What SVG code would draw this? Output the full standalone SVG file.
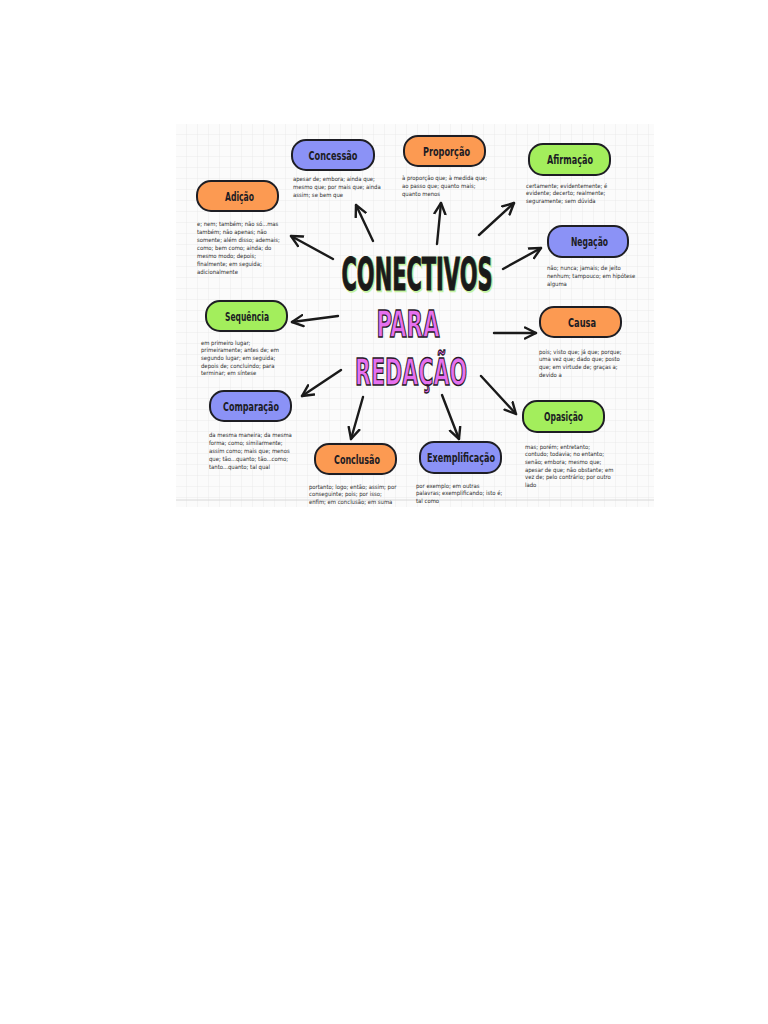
<svg xmlns="http://www.w3.org/2000/svg" width="768" height="1024" viewBox="0 0 768 1024">
<defs>
<pattern id="grid" x="176" y="124" width="11" height="11" patternUnits="userSpaceOnUse">
<path d="M11 0V11M0 11H11" fill="none" stroke="#e4e4e6" stroke-width="0.8"/>
</pattern>
<marker id="ah" viewBox="0 0 14 14" refX="12" refY="7" markerWidth="14" markerHeight="14" markerUnits="userSpaceOnUse" orient="auto">
<path d="M1 1.5L12 7L1 12.5" fill="none" stroke="#1a1a1a" stroke-width="2.4" stroke-linecap="round" stroke-linejoin="round"/>
</marker>
</defs>
<style>
.box{stroke:#1e1e24;stroke-width:2}
.or{fill:#fc9a52}
.bl{fill:#8b92f6}
.gr{fill:#a3ee5c}
.lbl{font-family:"DejaVu Sans Condensed","DejaVu Sans",sans-serif;font-stretch:condensed;font-weight:bold;font-size:12px;fill:#1c1c24;text-anchor:middle}
.d{font-family:"DejaVu Sans Condensed","DejaVu Sans",sans-serif;font-stretch:condensed;font-size:5.9px;fill:#2e2e2e}
.arr{stroke:#1a1a1a;stroke-width:2.4;stroke-linecap:round;fill:none;marker-end:url(#ah)}
.ttl{font-family:"DejaVu Sans Condensed","DejaVu Sans",sans-serif;font-stretch:condensed;font-weight:bold;text-anchor:middle}
</style>
<rect width="768" height="1024" fill="#ffffff"/>
<rect x="176" y="124" width="478" height="383" fill="#fbfbfb"/>
<rect x="176" y="124" width="478" height="383" fill="url(#grid)"/>
<line x1="176" y1="500" x2="654" y2="500" stroke="#d8d8d8" stroke-width="1"/>

<g id="connectors">
<line class="arr" x1="333" y1="259" x2="291" y2="236"/>
<line class="arr" x1="373" y1="241" x2="356" y2="205"/>
<line class="arr" x1="437" y1="244" x2="441" y2="203"/>
<line class="arr" x1="479" y1="235" x2="514" y2="203"/>
<line class="arr" x1="503" y1="269" x2="541" y2="248"/>
<line class="arr" x1="338" y1="316" x2="292" y2="322"/>
<line class="arr" x1="494" y1="333" x2="536" y2="333"/>
<line class="arr" x1="341" y1="370" x2="302" y2="396"/>
<line class="arr" x1="363" y1="397" x2="351" y2="439"/>
<line class="arr" x1="442" y1="395" x2="459" y2="439"/>
<line class="arr" x1="481" y1="376" x2="516" y2="414"/>
</g>

<g id="title">
<text class="ttl" x="418" y="291" font-size="44" textLength="151" lengthAdjust="spacingAndGlyphs" fill="#c4f3a0" stroke="#c4f3a0" stroke-width="2.5">CONECTIVOS</text>
<text class="ttl" x="417" y="290" font-size="44" textLength="151" lengthAdjust="spacingAndGlyphs" fill="#1a1a1a" stroke="#1a1a1a" stroke-width="1">CONECTIVOS</text>
<text class="ttl" x="408" y="337" font-size="38" textLength="63" lengthAdjust="spacingAndGlyphs" fill="#e670f0" stroke="#2a1a2a" stroke-width="1.4">PARA</text>
<text class="ttl" x="411" y="385" font-size="38" textLength="112" lengthAdjust="spacingAndGlyphs" fill="#e670f0" stroke="#2a1a2a" stroke-width="1.4">REDAÇÃO</text>
</g>

<g id="concessao">
<rect class="box bl" x="292" y="140" width="82" height="30" rx="14"/>
<text class="lbl" x="333" y="159.5" textLength="49" lengthAdjust="spacingAndGlyphs">Concessão</text>
<text class="d"><tspan x="293" y="181">apesar de; embora; ainda que;</tspan><tspan x="293" y="189">mesmo que; por mais que; ainda</tspan><tspan x="293" y="197">assim; se bem que</tspan></text>
</g>

<g id="proporcao">
<rect class="box or" x="404" y="136" width="81" height="30" rx="14"/>
<text class="lbl" x="446.5" y="155.5" textLength="47" lengthAdjust="spacingAndGlyphs">Proporção</text>
<text class="d"><tspan x="402" y="179.5">à proporção que; à medida que;</tspan><tspan x="402" y="187.5">ao passo que; quanto mais;</tspan><tspan x="402" y="195.5">quanto menos</tspan></text>
</g>

<g id="afirmacao">
<rect class="box gr" x="529" y="144" width="81" height="31" rx="14"/>
<text class="lbl" x="570" y="164" textLength="46" lengthAdjust="spacingAndGlyphs">Afirmação</text>
<text class="d"><tspan x="526" y="187.5">certamente; evidentemente; é</tspan><tspan x="526" y="195.2">evidente; decerto; realmente;</tspan><tspan x="526" y="202.9">seguramente; sem dúvida</tspan></text>
</g>

<g id="adicao">
<rect class="box or" x="197" y="181" width="81" height="30" rx="14"/>
<text class="lbl" x="239.5" y="200.5" textLength="29" lengthAdjust="spacingAndGlyphs">Adição</text>
<text class="d"><tspan x="197" y="225.5">e; nem; também; não só...mas</tspan><tspan x="197" y="233.5">também; não apenas; não</tspan><tspan x="197" y="241.5">somente; além disso; ademais;</tspan><tspan x="197" y="249.5">como; bem como; ainda; do</tspan><tspan x="197" y="257.5">mesmo modo; depois;</tspan><tspan x="197" y="265.5">finalmente; em seguida;</tspan><tspan x="197" y="273.5">adicionalmente</tspan></text>
</g>

<g id="negacao">
<rect class="box bl" x="548" y="226" width="80" height="31" rx="14"/>
<text class="lbl" x="589.5" y="246" textLength="37" lengthAdjust="spacingAndGlyphs">Negação</text>
<text class="d"><tspan x="547" y="270">não; nunca; jamais; de jeito</tspan><tspan x="547" y="277.8">nenhum; tampouco; em hipótese</tspan><tspan x="547" y="285.6">alguma</tspan></text>
</g>

<g id="sequencia">
<rect class="box gr" x="206" y="301" width="81" height="30" rx="14"/>
<text class="lbl" x="247" y="320.5" textLength="44" lengthAdjust="spacingAndGlyphs">Sequência</text>
<text class="d"><tspan x="201" y="344.5">em primeiro lugar;</tspan><tspan x="201" y="352.2">primeiramente; antes de; em</tspan><tspan x="201" y="359.9">segundo lugar; em seguida;</tspan><tspan x="201" y="367.6">depois de; concluindo; para</tspan><tspan x="201" y="375.3">terminar; em síntese</tspan></text>
</g>

<g id="causa">
<rect class="box or" x="540" y="307" width="81" height="30" rx="14"/>
<text class="lbl" x="582" y="326.5" textLength="28" lengthAdjust="spacingAndGlyphs">Causa</text>
<text class="d"><tspan x="539" y="353.5">pois; visto que; já que; porque;</tspan><tspan x="539" y="361.2">uma vez que; dado que; posto</tspan><tspan x="539" y="368.9">que; em virtude de; graças a;</tspan><tspan x="539" y="376.6">devido a</tspan></text>
</g>

<g id="comparacao">
<rect class="box bl" x="210" y="391" width="81" height="30" rx="14"/>
<text class="lbl" x="251" y="410.5" textLength="56" lengthAdjust="spacingAndGlyphs">Comparação</text>
<text class="d"><tspan x="209" y="436.5">da mesma maneira; da mesma</tspan><tspan x="209" y="444.7">forma; como; similarmente;</tspan><tspan x="209" y="452.9">assim como; mais que; menos</tspan><tspan x="209" y="461.1">que; tão...quanto; tão...como;</tspan><tspan x="209" y="469.3">tanto...quanto; tal qual</tspan></text>
</g>

<g id="conclusao">
<rect class="box or" x="315" y="444" width="81" height="30" rx="14"/>
<text class="lbl" x="357" y="463.5" textLength="46" lengthAdjust="spacingAndGlyphs">Conclusão</text>
<text class="d"><tspan x="309" y="488.5">portanto; logo; então; assim; por</tspan><tspan x="309" y="496.1">conseguinte; pois; por isso;</tspan><tspan x="309" y="503.7">enfim; em conclusão; em suma</tspan></text>
</g>

<g id="exemplificacao">
<rect class="box bl" x="420" y="442" width="81" height="31" rx="14"/>
<text class="lbl" x="461" y="462" textLength="68" lengthAdjust="spacingAndGlyphs">Exemplificação</text>
<text class="d"><tspan x="416" y="487.5">por exemplo; em outras</tspan><tspan x="416" y="495.3">palavras; exemplificando; isto é;</tspan><tspan x="416" y="503.1">tal como</tspan></text>
</g>

<g id="opasicao">
<rect class="box gr" x="523" y="401" width="81" height="31" rx="14"/>
<text class="lbl" x="563.5" y="421" textLength="39" lengthAdjust="spacingAndGlyphs">Opasição</text>
<text class="d"><tspan x="525" y="448.5">mas; porém; entretanto;</tspan><tspan x="525" y="456.2">contudo; todavia; no entanto;</tspan><tspan x="525" y="463.9">senão; embora; mesmo que;</tspan><tspan x="525" y="471.6">apesar de que; não obstante; em</tspan><tspan x="525" y="479.3">vez de; pelo contrário; por outro</tspan><tspan x="525" y="487">lado</tspan></text>
</g>
</svg>
